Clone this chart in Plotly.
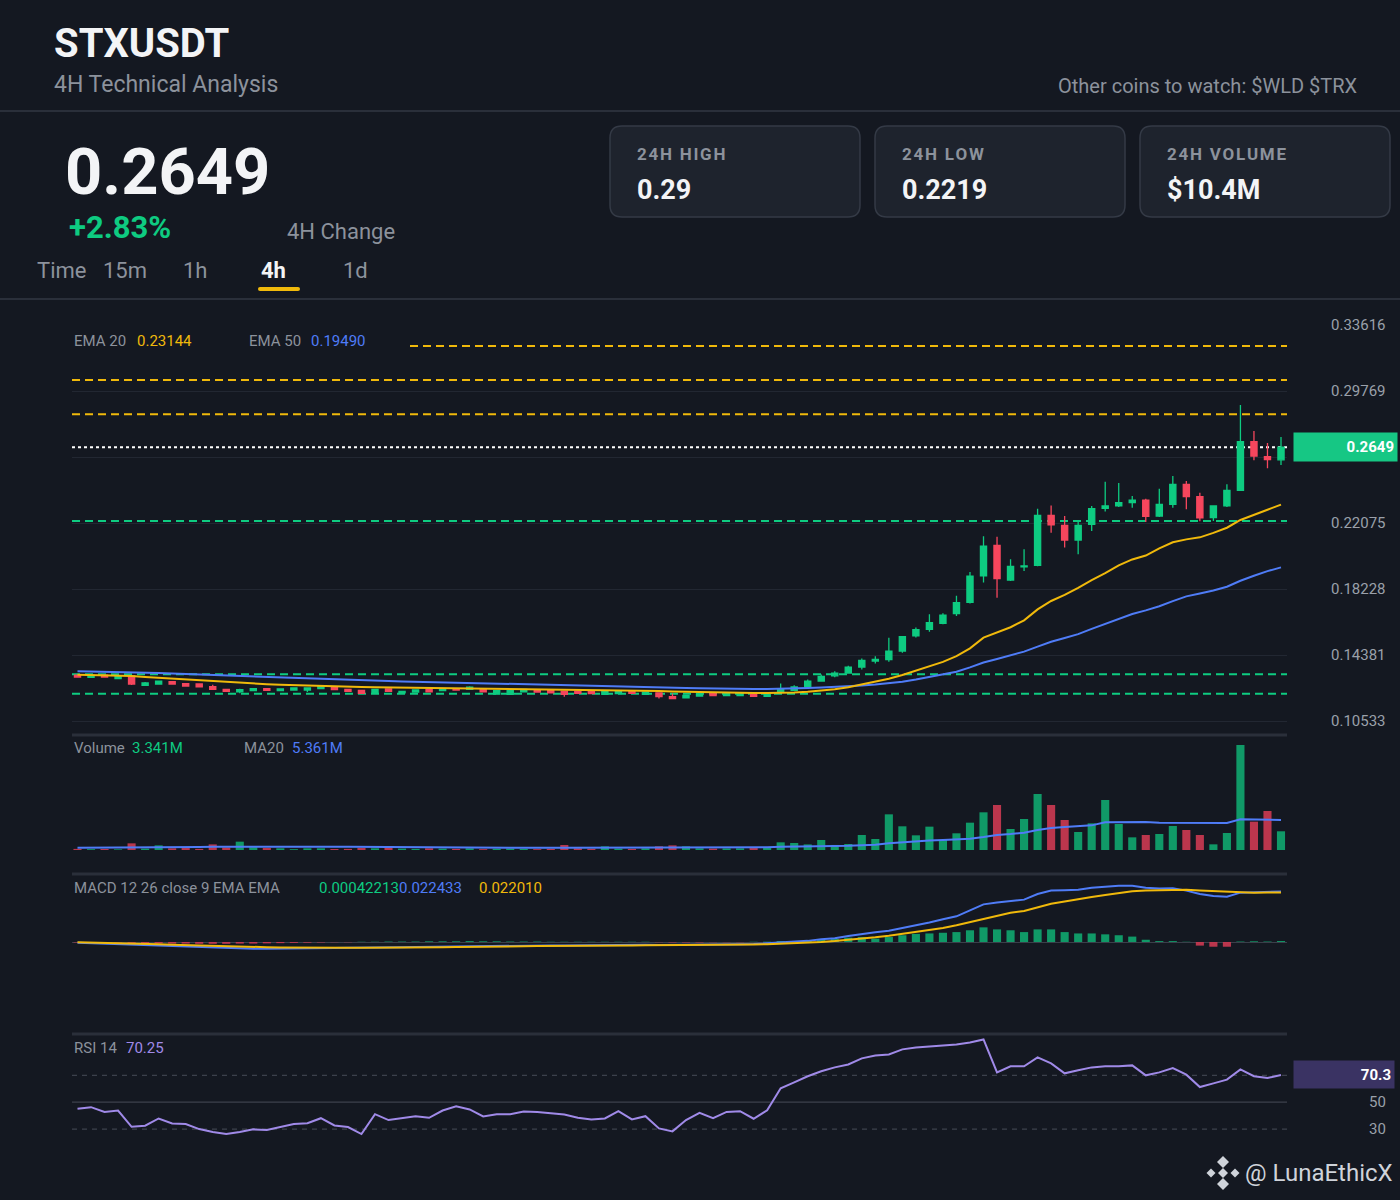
import plotly.graph_objects as go
from decimal import Decimal, ROUND_HALF_UP

# =============================================================================
# STXUSDT 4H chart card: candles + EMA, volume, MACD, RSI
# =============================================================================

W, H = 1400, 1200

# --- DATA ---
opens = [
    .1321, .1308, .1321, .1300, .1316, .1261, .1269, .1283, .1271, .1269,
    .1253, .1238, .1224, .1230, .1242, .1230, .1234, .1234, .1242, .1253,
    .1238, .1232, .1215, .1240, .1217, .1222, .1238, .1230, .1242, .1238,
    .1238, .1210, .1209, .1224, .1234, .1230, .1228, .1226, .1224, .1209,
    .1213, .1226, .1209, .1217, .1195, .1189, .1199, .1215, .1201, .1201,
    .1209, .1197, .1222, .1232, .1252, .1286, .1317, .1333, .1368, .1403,
    .1411, .1461, .1549, .1588, .1623, .1679, .1745, .1899, .2077, .1875,
    .1952, .1961, .2252, .2194, .2108, .2200, .2293, .2307, .2326, .2340,
    .2248, .2316, .2433, .2361, .2239, .2307, .2398, .2682, .2594, .2576]
closes = [
    .1310, .1321, .1310, .1312, .1269, .1275, .1285, .1269, .1257, .1252,
    .1238, .1226, .1236, .1242, .1232, .1240, .1246, .1246, .1253, .1236,
    .1226, .1215, .1238, .1226, .1226, .1234, .1223, .1242, .1234, .1250,
    .1224, .1230, .1230, .1238, .1222, .1217, .1209, .1215, .1213, .1224,
    .1224, .1215, .1222, .1195, .1184, .1203, .1211, .1201, .1211, .1215,
    .1197, .1209, .1241, .1252, .1286, .1313, .1333, .1368, .1407, .1413,
    .1461, .1545, .1586, .1626, .1671, .1743, .1897, .2073, .1883, .1955,
    .1957, .2252, .2196, .2108, .2194, .2291, .2307, .2326, .2340, .2246,
    .2316, .2433, .2361, .2237, .2307, .2398, .2682, .2598, .2577, .2649]
highs = [
    .1324, .1324, .1323, .1314, .1318, .1280, .1288, .1286, .1274, .1272,
    .1265, .1240, .1242, .1245, .1244, .1242, .1249, .1248, .1256, .1255,
    .1240, .1234, .1240, .1242, .1228, .1236, .1240, .1244, .1244, .1256,
    .1240, .1232, .1232, .1240, .1236, .1232, .1230, .1228, .1226, .1226,
    .1226, .1228, .1224, .1219, .1213, .1205, .1213, .1217, .1213, .1217,
    .1211, .1211, .1272, .1262, .1296, .1325, .1344, .1376, .1417, .1431,
    .1539, .1549, .1598, .1675, .1681, .1784, .1922, .2130, .2128, .1996,
    .2054, .2291, .2310, .2248, .2219, .2307, .2448, .2441, .2365, .2349,
    .2407, .2481, .2452, .2384, .2310, .2433, .2895, .2744, .2674, .2709]
lows = [
    .1308, .1306, .1308, .1297, .1263, .1257, .1266, .1267, .1255, .1250,
    .1235, .1224, .1215, .1228, .1230, .1228, .1232, .1222, .1240, .1234,
    .1224, .1213, .1213, .1224, .1215, .1220, .1221, .1228, .1232, .1236,
    .1222, .1208, .1207, .1222, .1220, .1215, .1195, .1213, .1209, .1207,
    .1211, .1213, .1207, .1184, .1182, .1187, .1197, .1199, .1199, .1199,
    .1195, .1195, .1218, .1230, .1250, .1284, .1309, .1329, .1353, .1389,
    .1399, .1451, .1540, .1574, .1617, .1666, .1739, .1860, .1772, .1870,
    .1928, .1955, .2151, .2064, .2025, .2161, .2274, .2301, .2297, .2213,
    .2242, .2297, .2287, .2217, .2219, .2301, .2394, .2573, .2526, .2546]

ema20 = [
    .1323, .1322, .1321, .1319, .1315, .1310, .1305, .1300, .1295, .1290,
    .1285, .1280, .1276, .1272, .1268, .1265, .1262, .1259, .1257, .1255,
    .1253, .1251, .1250, .1249, .1248, .1247, .1247, .1246, .1245, .1245,
    .1244, .1243, .1242, .1241, .1240, .1239, .1237, .1236, .1234, .1233,
    .1232, .1231, .1230, .1228, .1225, .1223, .1221, .1220, .1219, .1218,
    .1217, .1216, .1217, .1219, .1224, .1230, .1239, .1250, .1266, .1283,
    .1300, .1322, .1346, .1370, .1398, .1432, .1477, .1539, .1570, .1600,
    .1640, .1704, .1753, .1788, .1830, .1875, .1915, .1960, .1995, .2018,
    .2060, .2095, .2112, .2124, .2150, .2180, .2225, .2257, .2285, .23144]
ema50 = [
    .1343, .1342, .1341, .1340, .1338, .1335, .1333, .1330, .1327, .1324,
    .1321, .1318, .1315, .1312, .1309, .1306, .1303, .1300, .1298, .1296,
    .1293, .1290, .1288, .1286, .1284, .1282, .1280, .1278, .1276, .1275,
    .1273, .1271, .1269, .1268, .1266, .1264, .1262, .1260, .1258, .1257,
    .1255, .1253, .1252, .1250, .1248, .1246, .1245, .1243, .1242, .1241,
    .1240, .1240, .1241, .1243, .1246, .1249, .1252, .1256, .1261, .1266,
    .1273, .1282, .1295, .1310, .1325, .1341, .1366, .1394, .1415, .1437,
    .1458, .1487, .1515, .1537, .1560, .1590, .1620, .1650, .1677, .1698,
    .1722, .1752, .1780, .1797, .1814, .1836, .1871, .1900, .1927, .19490]

volume_m = [
    0.20, 0.15, 0.18, 0.12, 1.19, 0.25, 0.83, 0.30, 0.35, 0.20,
    1.00, 0.45, 1.49, 0.50, 0.35, 0.30, 0.15, 0.30, 0.30, 0.18,
    0.20, 0.35, 0.30, 0.40, 0.25, 0.20, 0.30, 0.25, 0.20, 0.30,
    0.15, 0.22, 0.25, 0.20, 0.15, 0.20, 0.89, 0.30, 0.22, 0.65,
    0.25, 0.20, 0.30, 0.65, 0.83, 0.65, 0.30, 0.25, 0.28, 0.30,
    0.35, 0.40, 1.37, 1.25, 1.00, 1.79, 0.90, 1.07, 2.68, 1.96,
    6.37, 4.23, 2.62, 4.17, 1.79, 2.98, 4.88, 6.73, 8.04, 3.75,
    5.54, 10.0, 8.04, 5.36, 3.21, 4.76, 8.93, 4.64, 2.26, 2.68,
    2.86, 4.29, 3.57, 2.68, 1.01, 3.04, 18.75, 5.06, 6.96, 3.341]
vol_ma20 = [
    0.42, 0.42, 0.43, 0.43, 0.48, 0.48, 0.52, 0.52, 0.53, 0.53,
    0.57, 0.58, 0.63, 0.63, 0.62, 0.62, 0.60, 0.60, 0.60, 0.58,
    0.57, 0.55, 0.55, 0.52, 0.50, 0.50, 0.48, 0.45, 0.42, 0.42,
    0.40, 0.40, 0.38, 0.38, 0.38, 0.38, 0.40, 0.40, 0.40, 0.42,
    0.42, 0.42, 0.42, 0.44, 0.46, 0.48, 0.46, 0.46, 0.46, 0.47,
    0.48, 0.50, 0.60, 0.60, 0.60, 0.66, 0.71, 0.75, 0.83, 0.95,
    1.19, 1.38, 1.55, 1.70, 1.79, 1.85, 2.02, 2.32, 2.68, 2.85,
    3.10, 3.57, 3.93, 4.10, 4.29, 4.40, 4.94, 5.00, 5.00, 5.00,
    4.88, 4.88, 4.88, 4.88, 4.85, 4.82, 5.48, 5.40, 5.38, 5.361]

macd = [
    -.0003, -.0005, -.0007, -.0009, -.0013, -.0016, -.0018, -.0020, -.0022, -.0024,
    -.0026, -.0028, -.0029, -.0030, -.0030, -.0030, -.0029, -.0029, -.0028, -.0027,
    -.0026, -.0026, -.0025, -.0024, -.0023, -.0022, -.0021, -.0020, -.0019, -.0018,
    -.0018, -.0017, -.0016, -.0016, -.0015, -.0015, -.0015, -.0014, -.0014, -.0013,
    -.0013, -.0013, -.0012, -.0013, -.0013, -.0012, -.0012, -.0011, -.0011, -.0010,
    -.0009, -.0006, -.0002, .0001, .0005, .0012, .0017, .0027, .0036, .0043,
    .0050, .0062, .0073, .0087, .0101, .0114, .0140, .0167, .0175, .0181,
    .0188, .0213, .0228, .0230, .0232, .0241, .0246, .0250, .0250, .0241,
    .0237, .0238, .0228, .0213, .0204, .0201, .0219, .0221, .0223, .022433]
signal = [
    -.0001, -.0002, -.0003, -.0004, -.0006, -.0008, -.0010, -.0012, -.0014, -.0016,
    -.0018, -.0019, -.0021, -.0022, -.0023, -.0024, -.0025, -.0025, -.0026, -.0026,
    -.0026, -.0026, -.0026, -.0025, -.0025, -.0024, -.0024, -.0023, -.0022, -.0022,
    -.0021, -.0020, -.0020, -.0019, -.0018, -.0018, -.0017, -.0017, -.0016, -.0016,
    -.0015, -.0015, -.0014, -.0014, -.0014, -.0013, -.0013, -.0013, -.0012, -.0012,
    -.0011, -.0010, -.0008, -.0006, -.0003, .0000, .0004, .0009, .0015, .0021,
    .0028, .0036, .0043, .0052, .0062, .0074, .0088, .0105, .0119, .0130,
    .0138, .0155, .0170, .0180, .0191, .0200, .0209, .0218, .0225, .0229,
    .0231, .0232, .0232, .0229, .0226, .0222, .0219, .0219, .0220, .022010]
hist = [
    -.0002, -.0002, -.0002, -.0002, -.0004, -.0005, -.0006, -.0007, -.0007, -.0008,
    -.0008, -.0008, -.0007, -.0007, -.0006, -.0005, -.0004, -.0003, -.0002, -.0001,
    -.0001, .0001, .0001, .0002, .0002, .0002, .0003, .0003, .0003, .0004,
    .0003, .0003, .0002, .0002, .0002, .0001, .0001, .0001, .0001, .0001,
    .0001, .0001, .0001, -.0001, -.0002, -.0002, -.0002, -.0001, -.0001, -.0001,
    .0001, .00015, .00044, .00044, .0006, .0009, .0013, .0019, .0022, .0015,
    .0022, .0030, .0036, .0038, .0041, .0044, .0052, .0065, .0056, .0052,
    .0044, .0056, .0056, .0044, .0038, .0038, .0034, .0030, .0024, .0010,
    .0004, .0004, .0001, -.0016, -.0021, -.0021, .0002, .0003, .0002, .00042213]

rsi = [
    45.1, 46.3, 42.8, 43.8, 31.7, 32.5, 37.9, 34.2, 33.7, 30.0,
    27.8, 26.3, 27.8, 29.8, 29.3, 31.5, 33.7, 34.4, 38.1, 32.7,
    31.5, 26.3, 41.1, 36.7, 37.9, 39.6, 38.4, 43.8, 47.0, 44.6,
    39.4, 41.1, 41.1, 43.1, 42.8, 42.1, 40.9, 38.4, 37.2, 37.9,
    43.3, 37.2, 39.6, 30.5, 28.3, 36.7, 42.1, 38.1, 42.8, 43.3,
    37.7, 44.0, 60.4, 64.8, 69.3, 73.0, 75.9, 78.1, 82.6, 84.8,
    85.5, 89.3, 90.7, 91.5, 92.2, 93.0, 94.4, 96.7, 72.2, 76.7,
    76.7, 83.3, 78.9, 71.5, 73.7, 75.9, 76.7, 76.7, 77.4, 70.0,
    72.2, 75.4, 70.5, 61.3, 64.0, 66.8, 74.4, 69.3, 68.0, 70.25]

resistance_levels = [0.2841, 0.3041, 0.3239]
support_levels = [0.2219, 0.1326, 0.1212]
last_price = 0.2649
price_ticks = [0.10533, 0.14381, 0.18228, 0.22075, 0.25922, 0.29769, 0.33616]
rsi_ticks = [50, 30]

stats = [("24H HIGH", "0.29"), ("24H LOW", "0.2219"), ("24H VOLUME", "$10.4M")]
timeframes = [("15m", 101), ("1h", 181), ("4h", 259), ("1d", 341)]

idx = list(range(len(closes)))

# --- STYLE ---
BG = "#141821"
CARD = "#1e232d"
CARD_LINE = "#343a46"
SEP = "#2a2f3a"
GRID = "#222732"
TXT = "#8c929c"
WHITE = "#f3f4f6"
GREEN = "#0ecb81"
RED = "#f6465d"
ORANGE = "#f0b90b"
BLUE = "#4f7cf7"
PURPLE = "#a08ae8"
FONT = "Roboto, Arial, sans-serif"


def fx(x):
    return x / W


def fy(y):
    return 1 - y / H


def dom(top, bottom):
    return [fy(bottom), fy(top)]


def rrect(x0, y0, x1, y1, r):
    P = lambda x, y: f"{fx(x):.5f},{fy(y):.5f}"
    return (f"M {P(x0 + r, y0)} L {P(x1 - r, y0)} Q {P(x1, y0)} {P(x1, y0 + r)} "
            f"L {P(x1, y1 - r)} Q {P(x1, y1)} {P(x1 - r, y1)} L {P(x0 + r, y1)} "
            f"Q {P(x0, y1)} {P(x0, y1 - r)} L {P(x0, y0 + r)} Q {P(x0, y0)} {P(x0 + r, y0)} Z")


def diamond(cx, cy, s):
    P = lambda x, y: f"{fx(x):.5f},{fy(y):.5f}"
    return f"M {P(cx, cy - s)} L {P(cx + s, cy)} L {P(cx, cy + s)} L {P(cx - s, cy)} Z"


def round1(v):
    return str(Decimal(str(v)).quantize(Decimal("0.1"), rounding=ROUND_HALF_UP))


annotations = []
shapes = []


def text(x, y, s, size, color, anchor="left", bold=False):
    annotations.append(dict(
        x=fx(x), y=fy(y), xref="paper", yref="paper", showarrow=False,
        text=f"<b>{s}</b>" if bold else s, xanchor=anchor, yanchor="middle",
        font=dict(family=FONT, size=size, color=color),
    ))


def hline(y, x0=0, x1=W, color=SEP, width=2):
    shapes.append(dict(type="line", xref="paper", yref="paper",
                       x0=fx(x0), x1=fx(x1), y0=fy(y), y1=fy(y),
                       line=dict(color=color, width=width), layer="above"))


# --- FIGURE ---
fig = go.Figure()

fig.add_trace(go.Candlestick(
    x=idx, open=opens, high=highs, low=lows, close=closes,
    increasing=dict(line=dict(color=GREEN, width=1.3), fillcolor=GREEN),
    decreasing=dict(line=dict(color=RED, width=1.3), fillcolor=RED),
    whiskerwidth=0, xaxis="x", yaxis="y", hoverinfo="skip",
))
fig.add_trace(go.Scatter(x=idx, y=ema50, mode="lines", line=dict(color=BLUE, width=2),
                         xaxis="x", yaxis="y", hoverinfo="skip"))
fig.add_trace(go.Scatter(x=idx, y=ema20, mode="lines", line=dict(color=ORANGE, width=2),
                         xaxis="x", yaxis="y", hoverinfo="skip"))

up = [c >= o for o, c in zip(opens, closes)]
fig.add_trace(go.Bar(
    x=idx, y=volume_m, width=0.6, xaxis="x", yaxis="y2", hoverinfo="skip",
    marker=dict(color=["rgba(16,160,108,0.95)" if u else "rgba(196,56,80,0.95)" for u in up],
                line=dict(width=0)),
))
fig.add_trace(go.Scatter(x=idx, y=vol_ma20, mode="lines", line=dict(color=BLUE, width=2),
                         xaxis="x", yaxis="y2", hoverinfo="skip"))

fig.add_trace(go.Bar(
    x=idx, y=hist, width=0.6, xaxis="x", yaxis="y3", hoverinfo="skip",
    marker=dict(color=["rgba(16,160,108,0.95)" if h >= 0 else "rgba(196,56,80,0.95)" for h in hist],
                line=dict(width=0)),
))
fig.add_trace(go.Scatter(x=idx, y=macd, mode="lines", line=dict(color=BLUE, width=2),
                         xaxis="x", yaxis="y3", hoverinfo="skip"))
fig.add_trace(go.Scatter(x=idx, y=signal, mode="lines", line=dict(color=ORANGE, width=2),
                         xaxis="x", yaxis="y3", hoverinfo="skip"))

fig.add_trace(go.Scatter(x=idx, y=rsi, mode="lines", line=dict(color=PURPLE, width=2),
                         xaxis="x", yaxis="y4", hoverinfo="skip"))

# --- HEADER ---
text(52, 44, "STXUSDT", 40, WHITE, bold=True)
text(52, 85, "4H Technical Analysis", 23, TXT)
text(1360, 86, "Other coins to watch: $WLD $TRX", 20, TXT, anchor="right")
hline(111)

text(63, 172, "0.2649", 65, WHITE, bold=True)
text(67, 228, "+2.83%", 31, GREEN, bold=True)
text(285, 231, "4H Change", 22, TXT)
text(35, 270, "Time", 22, TXT)
for label, x in timeframes:
    active = label == "4h"
    text(x, 270, label, 22, WHITE if active else TXT, bold=active)
shapes.append(dict(type="path", xref="paper", yref="paper", path=rrect(258, 287, 300, 291, 2),
                   fillcolor=ORANGE, line=dict(width=0)))
hline(299)

for k, (label, value) in enumerate(stats):
    x0 = 610 + k * 265
    shapes.append(dict(type="path", xref="paper", yref="paper", path=rrect(x0, 126, x0 + 250, 217, 12),
                       fillcolor=CARD, line=dict(color=CARD_LINE, width=1.5), layer="below"))
    spaced = "\u200a".join(label)
    text(x0 + 25, 154, spaced, 17, TXT, bold=True)
    text(x0 + 25, 190, value, 27, WHITE, bold=True)

# --- PANE FRAMES / LEVELS ---
for y in (735, 874, 1034):
    hline(y, 72, 1287, color=SEP, width=3)

for lv in resistance_levels:
    shapes.append(dict(type="line", xref="x domain", yref="y", x0=0, x1=1, y0=lv, y1=lv,
                       line=dict(color=ORANGE, width=2, dash="8px,5px"), layer="below"))
for lv in support_levels:
    shapes.append(dict(type="line", xref="x domain", yref="y", x0=0, x1=1, y0=lv, y1=lv,
                       line=dict(color=GREEN, width=2, dash="8px,5px"), layer="below"))
shapes.append(dict(type="line", xref="x domain", yref="y", x0=0, x1=1, y0=last_price, y1=last_price,
                   line=dict(color="#ffffff", width=2, dash="3px,3px"), layer="below"))
# label background covering the top level line on the left
shapes.append(dict(type="rect", xref="paper", yref="paper", x0=fx(72), x1=fx(405), y0=fy(353), y1=fy(331),
                   fillcolor=BG, line=dict(width=0), layer="below"))

for lv, dash in ((70, "5px,5px"), (50, "solid"), (30, "5px,5px")):
    shapes.append(dict(type="line", xref="x domain", yref="y4", x0=0, x1=1, y0=lv, y1=lv,
                       line=dict(color="#3c414c", width=1.3, dash=dash), layer="below"))

# price scale labels (the one hidden under the last-price tag is skipped)
for t in price_ticks:
    if abs(t - last_price) < 0.012:
        continue
    annotations.append(dict(x=fx(1388), y=t, xref="paper", yref="y", showarrow=False,
                            text=f"{t:.5f}", xanchor="right", yanchor="middle",
                            font=dict(family=FONT, size=15, color="#9aa0aa")))
for t in rsi_ticks:
    annotations.append(dict(x=fx(1388), y=t, xref="paper", yref="y4", showarrow=False,
                            text=str(t), xanchor="right", yanchor="middle",
                            font=dict(family=FONT, size=15, color="#9aa0aa")))

# last price / last rsi tags
annotations.append(dict(x=fx(1293), y=last_price, xref="paper", yref="y", showarrow=False,
                        text=f"<b>{last_price:.4f}</b>", xanchor="left", yanchor="middle",
                        width=97, height=22, align="right", bgcolor="#16c784", borderpad=3,
                        font=dict(family=FONT, size=15, color="#ffffff")))
annotations.append(dict(x=fx(1293), y=rsi[-1], xref="paper", yref="y4", showarrow=False,
                        text=f"<b>{round1(rsi[-1])}</b>", xanchor="left", yanchor="middle",
                        width=94, height=21, align="right", bgcolor="#3a3363", borderpad=3,
                        font=dict(family=FONT, size=15, color="#ffffff")))

# pane legends
text(72, 341, "EMA 20", 15, TXT)
text(135, 341, f"{ema20[-1]:.5f}", 15, ORANGE)
text(247, 341, "EMA 50", 15, TXT)
text(309, 341, f"{ema50[-1]:.5f}", 15, BLUE)
text(72, 748, "Volume", 15, TXT)
text(130, 748, f"{volume_m[-1]:.3f}M", 15, GREEN)
text(242, 748, "MA20", 15, TXT)
text(290, 748, f"{vol_ma20[-1]:.3f}M", 15, BLUE)
text(72, 888, "MACD 12 26 close 9 EMA EMA", 15, TXT)
text(317, 888, f"{hist[-1]:.8f}", 15, GREEN)
text(397, 888, f"{macd[-1]:.6f}", 15, BLUE)
text(477, 888, f"{signal[-1]:.6f}", 15, ORANGE)
text(72, 1048, "RSI 14", 15, TXT)
text(124, 1048, f"{rsi[-1]:.2f}", 15, PURPLE)

# watermark (exchange logo + handle)
for cx, cy, s in ((1223, 1173, 5), (1211, 1173, 4.5), (1235, 1173, 4.5), (1223, 1162, 6), (1223, 1184, 6)):
    shapes.append(dict(type="path", xref="paper", yref="paper", path=diamond(cx, cy, s),
                       fillcolor="#cfd3da", line=dict(width=0)))
text(1243, 1173, "@ LunaEthicX", 24, "#cfd3da")

# --- AXES ---
n = len(closes)
x_left = -5.5 / 13.52
x_right = (n - 1) + 6 / 13.52

price_top = 0.33616
px_per_unit = 66 / 0.03847
price_bottom = price_top - (735 - 325) / px_per_unit

macd_per_px = 0.0225 / 50.7
macd_range = [-(1020 - 942) * macd_per_px, (942 - 875) * macd_per_px]

fig.update_layout(
    width=W, height=H,
    margin=dict(l=0, r=0, t=0, b=0),
    paper_bgcolor=BG, plot_bgcolor=BG,
    showlegend=False,
    boxgap=0.35,
    font=dict(family=FONT, color=TXT),
    xaxis=dict(domain=[fx(72), fx(1287)], range=[x_left, x_right], showgrid=False,
               showticklabels=False, zeroline=False, showline=False,
               rangeslider=dict(visible=False), anchor="y4", fixedrange=True),
    yaxis=dict(domain=dom(325, 735), range=[price_bottom, price_top], anchor="x",
               tickvals=price_ticks, showticklabels=False, gridcolor=GRID, gridwidth=1,
               zeroline=False, showline=False),
    yaxis2=dict(domain=dom(735, 850), range=[0, (850 - 735) / 5.6], anchor="x",
                showgrid=False, showticklabels=False, zeroline=False),
    yaxis3=dict(domain=dom(875, 1020), range=macd_range, anchor="x",
                showgrid=False, showticklabels=False, zeroline=True,
                zerolinecolor="#3a3f4a", zerolinewidth=1),
    yaxis4=dict(domain=dom(1035, 1150), range=[14.44, 100], anchor="x",
                showgrid=False, showticklabels=False, zeroline=False),
    shapes=shapes,
    annotations=annotations,
)

fig.write_html("out.html", config={"displayModeBar": False},
               post_script="document.body.style.margin='0';")
